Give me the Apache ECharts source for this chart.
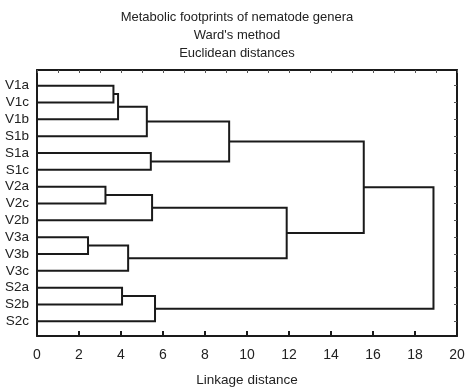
<!DOCTYPE html>
<html>
<head>
<meta charset="utf-8">
<script src="https://cdn.jsdelivr.net/npm/echarts@6/dist/echarts.min.js"></script>
<style>
    html, body { margin: 0; padding: 0; background: #fff; }
    #chart { width: 474px; height: 392px; }
</style>
</head>
<body>
<div id="chart"></div>
<script>
// leaves from top to bottom
var leaves = ['V1a', 'V1c', 'V1b', 'S1b', 'S1a', 'S1c', 'V2a', 'V2c', 'V2b', 'V3a', 'V3b', 'V3c', 'S2a', 'S2b', 'S2c'];
// merges: [left, right, linkage distance]; ids >= leaves.length point to earlier merges
var mergeLeft = [0, 15, 16, 4, 17, 6, 20, 9, 22, 21, 19, 12, 26, 25];
var mergeRight = [1, 2, 3, 5, 18, 7, 8, 10, 11, 23, 24, 13, 14, 27];
var mergeHeight = [3.64, 3.86, 5.23, 5.42, 9.15, 3.26, 5.48, 2.43, 4.34, 11.89, 15.56, 4.05, 5.62, 18.88];
var xTicks = [0, 2, 4, 6, 8, 10, 12, 14, 16, 18, 20];

var FONT = '"Liberation Sans", Arial, sans-serif';
var INK = '#1a1a1a';

var chart = echarts.init(document.getElementById('chart'));

// build the links of the tree (U shapes)
var pos = leaves.map(function (d, i) { return i; });
var height = leaves.map(function () { return 0; });
var links = [];
for (var k = 0; k < mergeHeight.length; k++) {
    var a = mergeLeft[k], b = mergeRight[k], h = mergeHeight[k];
    links.push({
        coords: [[height[a], pos[a]], [h, pos[a]], [h, pos[b]], [height[b], pos[b]]]
    });
    pos.push((pos[a] + pos[b]) / 2);
    height.push(h);
}

var leafIdx = leaves.map(function (d, i) { return i; });

var option = {
    animation: false,
    backgroundColor: '#fff',
    title: {
        text: 'Metabolic footprints of nematode genera\nWard\'s method\nEuclidean distances',
        left: 232,
        top: 3,
        textAlign: 'center',
        textStyle: {
            fontFamily: FONT,
            fontSize: 13,
            fontWeight: 'normal',
            lineHeight: 18,
            color: '#222'
        }
    },
    grid: {
        left: 37,
        right: 17,
        top: 70,
        bottom: 52
    },
    xAxis: [{
        type: 'value',
        position: 'bottom',
        min: 0,
        max: 20,
        interval: 2,
        name: 'Linkage distance',
        nameLocation: 'middle',
        nameGap: 37,
        nameTextStyle: { fontFamily: FONT, fontSize: 13.5, color: '#222' },
        axisLine: { onZero: false, lineStyle: { color: INK, width: 2 } },
        axisTick: { inside: true, length: 5, lineStyle: { color: INK, width: 2 } },
        axisLabel: {
            fontFamily: FONT, fontSize: 14, color: '#222', margin: 12,
            customValues: xTicks
        },
        splitLine: { show: false }
    }, {
        type: 'value',
        position: 'top',
        min: 0,
        max: 20,
        interval: 1,
        axisLine: { onZero: false, lineStyle: { color: INK, width: 2 } },
        axisTick: { inside: true, length: 3, lineStyle: { color: '#555', width: 1 } },
        axisLabel: { show: false },
        splitLine: { show: false }
    }],
    yAxis: [{
        type: 'value',
        position: 'left',
        inverse: true,
        min: -0.93,
        max: 14.87,
        axisLine: { show: true, onZero: false, lineStyle: { color: INK, width: 2 } },
        axisTick: { show: false },
        axisLabel: {
            fontFamily: FONT, fontSize: 13.5, color: '#222', margin: 8,
            customValues: leafIdx,
            formatter: function (v) { return leaves[Math.round(v)]; }
        },
        splitLine: { show: false }
    }, {
        type: 'value',
        position: 'right',
        inverse: true,
        min: -0.93,
        max: 14.87,
        axisLine: { show: true, onZero: false, lineStyle: { color: INK, width: 2 } },
        axisTick: { show: true, inside: true, length: 3, customValues: leafIdx, lineStyle: { color: '#555', width: 1 } },
        axisLabel: { show: false },
        splitLine: { show: false }
    }],
    series: [{
        type: 'lines',
        coordinateSystem: 'cartesian2d',
        xAxisIndex: 0,
        yAxisIndex: 0,
        polyline: true,
        silent: true,
        lineStyle: { color: INK, width: 2, opacity: 1 },
        data: links
    }]
};

chart.setOption(option);
</script>
</body>
</html>
